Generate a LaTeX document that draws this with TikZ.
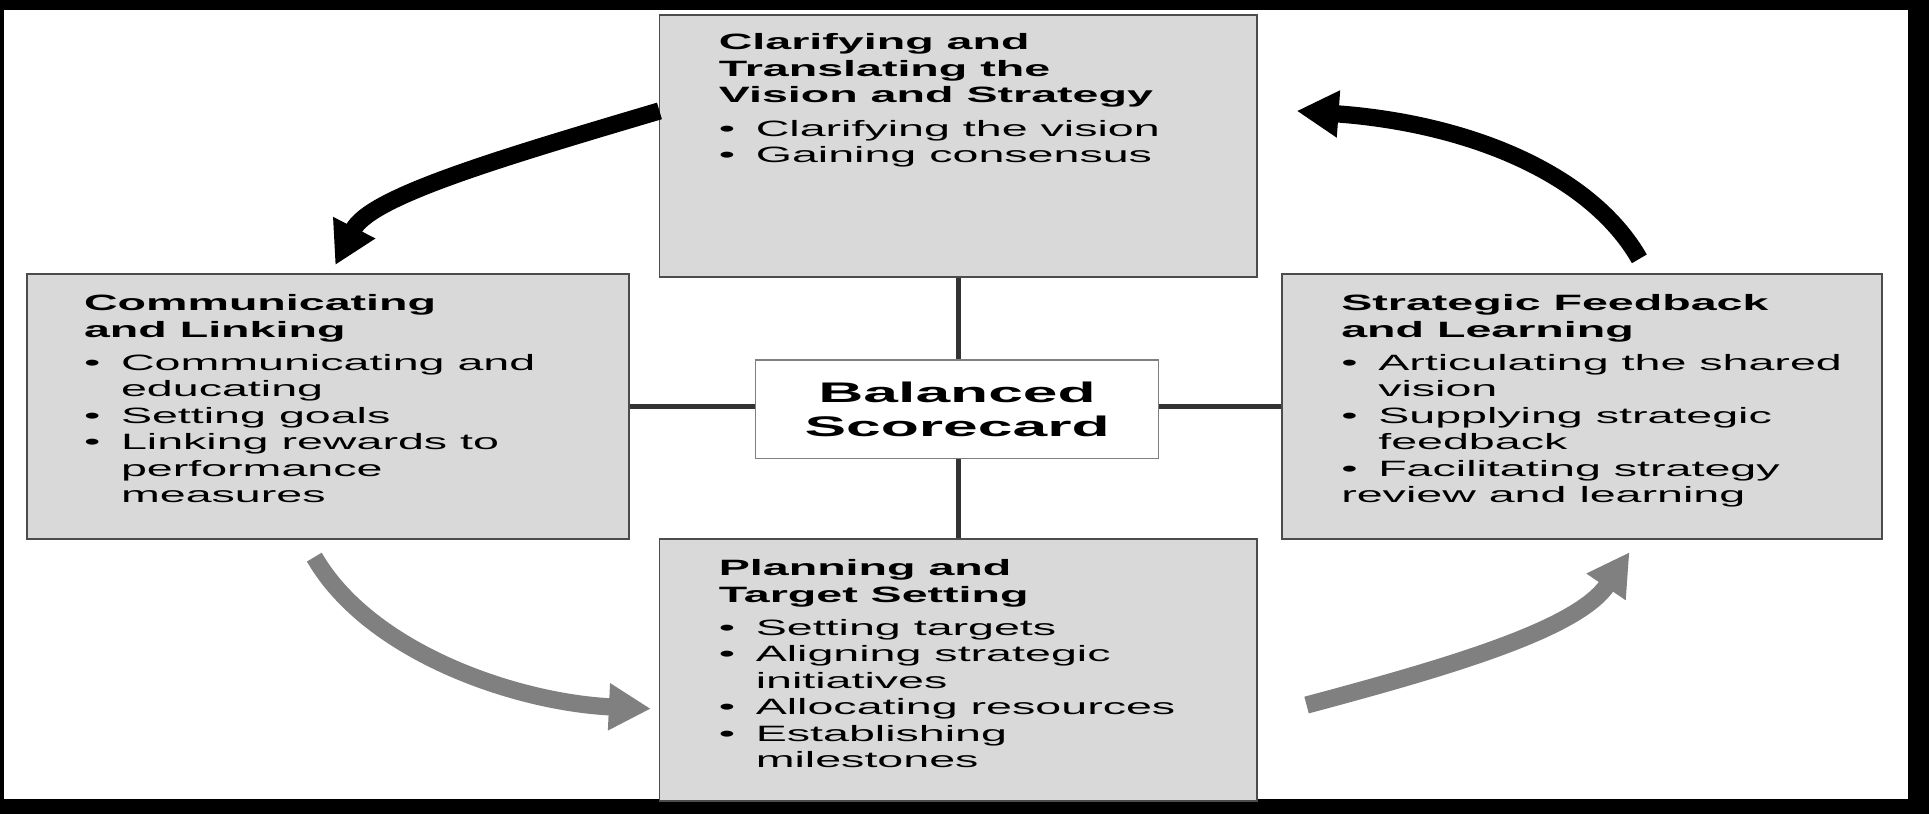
\documentclass[tikz,border=0pt]{standalone}
\usepackage{fontspec}
\setmainfont[FakeStretch=2.1]{Liberation Sans}
\newfontfamily\bigf[FakeStretch=2.2]{Liberation Sans}
\usetikzlibrary{arrows.meta}
\definecolor{boxgray}{HTML}{D9D9D9}
\definecolor{arrgray}{HTML}{808080}
\newcommand{\bl}[1]{\makebox[30pt][l]{•}#1\\}
\newcommand{\cl}[1]{\hspace*{30pt}#1\\}
\tikzset{
 box/.style={draw=black!70,line width=1.5pt,fill=boxgray,inner sep=0},
 txt/.style={anchor=north west,align=left,inner sep=0,font=\fontsize{18}{21.5}\selectfont},
 conn/.style={line width=4pt,black!80},
 bigarr/.style={line width=14pt,-{Triangle[length=34pt,width=36pt]}},
}
\begin{document}
\begin{tikzpicture}[x=1pt,y=-1pt]
\fill[black] (0,0) rectangle (1565,660);
\fill[white] (3,8) rectangle (1548,648);
\useasboundingbox (0,0) rectangle (1565,660);
\node[box,minimum width=485pt,minimum height=213pt] (T) at (777.5,118.5) {};
\node[box,minimum width=488pt,minimum height=215pt] (L) at (266,329.5) {};
\node[box,minimum width=487pt,minimum height=215pt] (R) at (1283.5,329.5) {};
\node[box,minimum width=485pt,minimum height=213pt] (B) at (777.5,543.5) {};
\draw[conn] (T.south) -- (B.north);
\draw[conn] (L.east) -- (R.west);
\node[draw=black!50,line width=1.2pt,fill=white,minimum width=327pt,minimum height=80pt,align=center,font=\bigf\bfseries\fontsize{23}{28}\selectfont] (C) at (776.5,332) {Balanced\\Scorecard};
\node[txt] (tt) at (583,27) {\textbf{Clarifying and}\\\textbf{Translating the}\\\textbf{Vision and Strategy}\\[6pt]\bl{Clarifying the vision}\bl{Gaining consensus}};
\node[txt] (lt) at (68,239) {\textbf{Communicating}\\\textbf{and Linking}\\[5pt]\bl{Communicating and}\cl{educating}\bl{Setting goals}\bl{Linking rewards to}\cl{performance}\cl{measures}};
\node[txt] (rt) at (1088,239) {\textbf{Strategic Feedback}\\\textbf{and Learning}\\[5pt]\bl{Articulating the shared}\cl{vision}\bl{Supplying strategic}\cl{feedback}\bl{Facilitating strategy}review and learning};
\node[txt] (bt) at (583,454) {\textbf{Planning and}\\\textbf{Target Setting}\\[5pt]\bl{Setting targets}\bl{Aligning strategic}\cl{initiatives}\bl{Allocating resources}\bl{Establishing}\cl{milestones}};
\coordinate (a1) at (535,90); \coordinate (a2) at (272,215);
\coordinate (b1) at (1330,210); \coordinate (b2) at (1052,90);
\coordinate (c1) at (255,452); \coordinate (c2) at (528,575);
\coordinate (d1) at (1060,572); \coordinate (d2) at (1322,448);
\draw[bigarr,black] (a1) .. controls (400,130) and (300,160) .. (a2);
\draw[bigarr,black] (b1) .. controls (1290,140) and (1190,100) .. (b2);
\draw[bigarr,arrgray] (c1) .. controls (300,530) and (420,570) .. (c2);
\draw[bigarr,arrgray] (d1) .. controls (1180,540) and (1280,510) .. (d2);
\end{tikzpicture}
\end{document}
